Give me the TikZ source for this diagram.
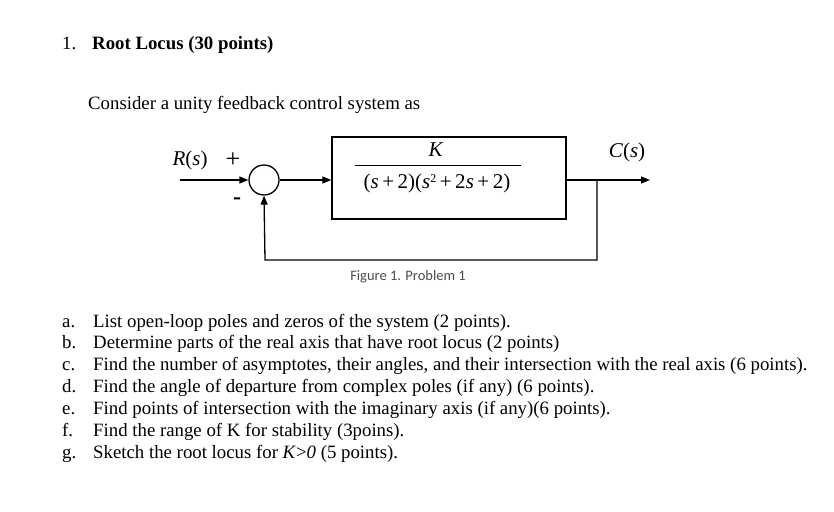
\documentclass[tikz,border=0pt]{standalone}
\usepackage{fontspec}
\setmainfont{Liberation Serif}
\newfontfamily\capfont{Carlito}
\usetikzlibrary{arrows.meta}
\begin{document}
\begin{tikzpicture}[x=1pt,y=-1pt,
  txt/.style={anchor=base west,inner sep=0pt,font=\fontsize{18.8}{22}\selectfont},
  mth/.style={inner sep=0pt,font=\fontsize{21}{24}\selectfont},
  wire/.style={line width=1.3pt},
  arr/.style={wire,-{Triangle[length=9pt,width=7pt]}}]
\useasboundingbox (0,0) rectangle (834,511);
\node[txt] (n1) at (62,49) {1.};
\node[txt,font=\fontsize{18.8}{22}\selectfont\bfseries] (title) at (92,49) {Root Locus (30 points)};
\node[txt] (cons) at (88,109) {Consider a unity feedback control system as};
% block diagram
\node[draw,circle,minimum size=30pt,inner sep=0pt,wire] (sum) at (264,180) {};
\node[draw,wire,minimum width=234pt,minimum height=82pt,inner sep=0pt] (plant) at (449,178) {};
\node[mth] (K) at (436,150) {\textit{K}};
\draw[line width=0.8pt] (355,165) -- (521,165);
\node[mth] (den) at (437,183) {(\textit{s}\,+\,2)(\textit{s}\raisebox{0.6ex}{\fontsize{12}{12}\selectfont 2}\,+\,2\textit{s}\,+\,2)};
\node[mth] (R) at (190,160) {\textit{R}(\textit{s})};
\node[mth,font=\fontsize{26}{28}\selectfont] (plus) at (233,160) {+};
\node[mth,font=\fontsize{24}{26}\selectfont\bfseries] (minus) at (237,201) {-};
\node[mth] (C) at (627,152) {\textit{C}(\textit{s})};
\coordinate (in) at (180,180);
\coordinate (out) at (650,180);
\coordinate (br) at (597,180);
\coordinate (b1) at (597,260);
\coordinate (b2) at (265,260);
\draw[arr] (in) -- (sum.west);
\draw[arr] (sum.east) -- (plant.west |- sum.east);
\draw[arr] (plant.east |- out) -- (out);
\draw[arr] (br) -- (b1) -- (b2) -- (sum.south);
\node[inner sep=0pt,text=black!70,font=\capfont\fontsize{14.5}{16}\selectfont] (cap) at (408,277) {Figure 1. Problem 1};
% questions
\foreach \l/\t [count=\i from 0] in {a./List open-loop poles and zeros of the system (2 points).,
 b./Determine parts of the real axis that have root locus (2 points),
 c./{Find the number of asymptotes, their angles, and their intersection with the real axis (6 points).},
 d./Find the angle of departure from complex poles (if any) (6 points).,
 e./Find points of intersection with the imaginary axis (if any)(6 points).,
 f./Find the range of K for stability (3poins).,
 g./{Sketch the root locus for \textit{K}>\textit{0} (5 points).}}
 {\node[txt] (l\i) at (62,327+21.9*\i) {\l};
  \node[txt] (q\i) at (93,327+21.9*\i) {\t};}
\end{tikzpicture}
\end{document}
